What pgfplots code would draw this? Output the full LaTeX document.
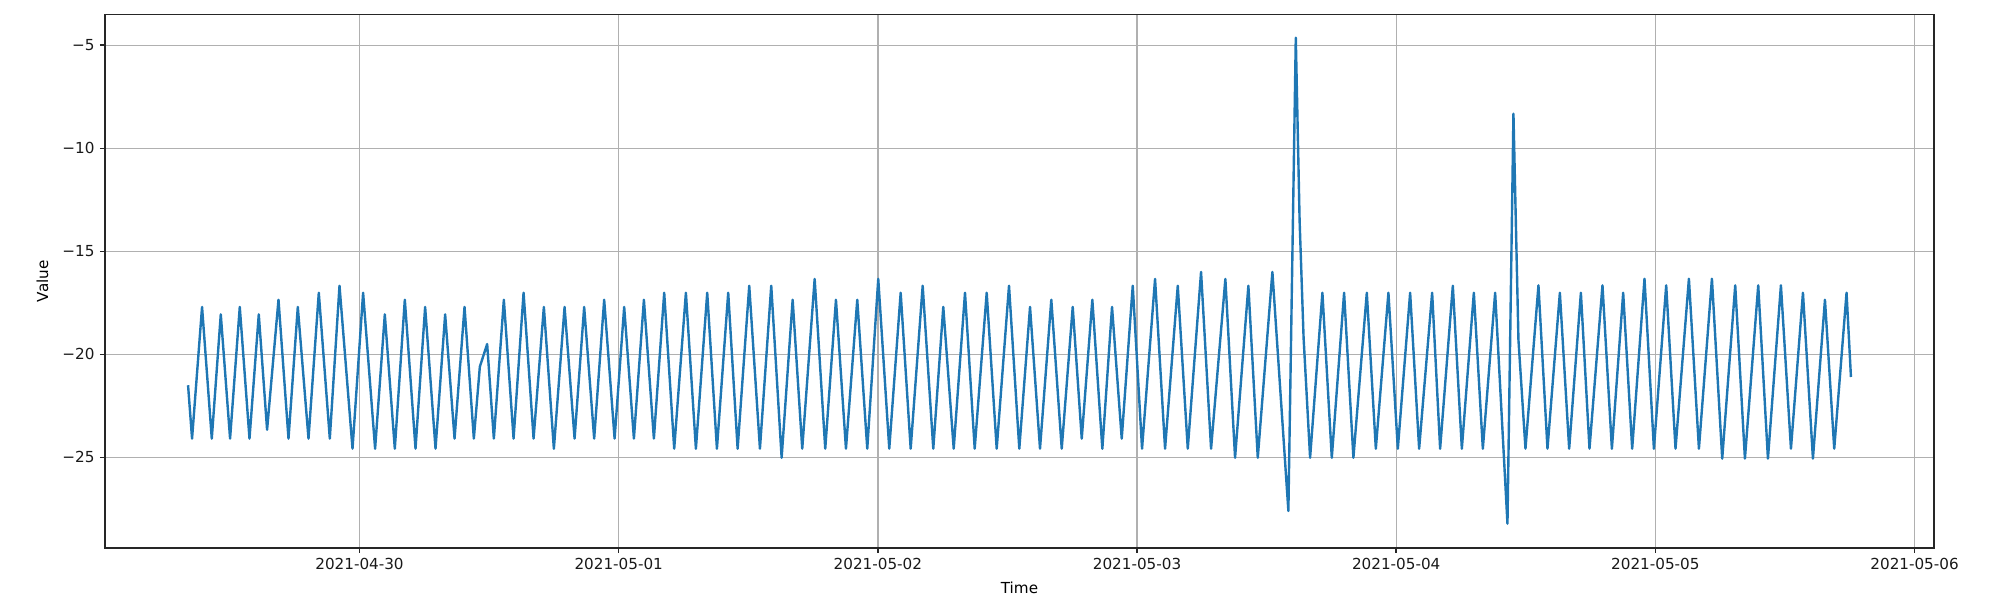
\documentclass[border=0pt]{standalone}
\usepackage{fontspec}
\setmainfont{DejaVu Sans}
\usepackage{pgfplots}
\pgfplotsset{compat=1.18}
\definecolor{mplblue}{HTML}{1F77B4}
\definecolor{gridgray}{HTML}{B0B0B0}
\begin{document}
\fontsize{7.6}{9}\selectfont
\begin{tikzpicture}
\useasboundingbox (0,0) rectangle (999.5pt,297pt);
\begin{axis}[
  at={(52.5pt,23pt)}, anchor=south west,
  scale only axis, width=914.5pt, height=266.8pt,
  xmin=-0.982, xmax=6.075, ymin=-29.4, ymax=-3.5,
  xtick={0,1,2,3,4,5,6},
  xticklabels={2021-04-30,2021-05-01,2021-05-02,2021-05-03,2021-05-04,2021-05-05,2021-05-06},
  ytick={-25,-20,-15,-10,-5},
  yticklabels={−25,−20,−15,−10,−5},
  grid=major, grid style={gridgray, line width=0.7pt},
  axis line style={black!85, line width=0.8pt},
  tick align=outside, tick pos=left,
  major tick style={black!85, line width=0.8pt}, major tick length=2.5pt,
  ticklabel style={font=\fontsize{7.6}{9}\selectfont, text=black!90},
  xlabel={Time}, ylabel={Value},
  every axis x label/.style={at={(axis description cs:0.5,0)}, anchor=center, yshift=-19.75pt, font=\fontsize{7.6}{9}\selectfont},
  every axis y label/.style={at={(axis description cs:0,0.5)}, rotate=90, anchor=center, yshift=31.25pt, font=\fontsize{7.6}{9}\selectfont},
]
\addplot[mplblue, line width=1.2pt, line join=round] table {
x y
-0.6615 -21.50
-0.6461 -24.09
-0.6075 -17.70
-0.5700 -24.09
-0.5353 -18.06
-0.4994 -24.09
-0.4620 -17.70
-0.4245 -24.09
-0.3887 -18.06
-0.3566 -23.66
-0.3126 -17.35
-0.2740 -24.09
-0.2381 -17.70
-0.1968 -24.09
-0.1571 -17.01
-0.1146 -24.09
-0.0772 -16.67
-0.0270 -24.58
0.0139 -17.01
0.0602 -24.58
0.0976 -18.06
0.1362 -24.58
0.1748 -17.35
0.2161 -24.58
0.2532 -17.70
0.2933 -24.58
0.3304 -18.06
0.3667 -24.09
0.4052 -17.70
0.4411 -24.09
0.4643 -20.60
0.4925 -19.50
0.5183 -24.09
0.5569 -17.35
0.5944 -24.09
0.6330 -17.01
0.6716 -24.09
0.7113 -17.70
0.7499 -24.58
0.7912 -17.70
0.8298 -24.09
0.8668 -17.70
0.9054 -24.09
0.9440 -17.35
0.9842 -24.09
1.0212 -17.70
1.0587 -24.09
1.0973 -17.35
1.1358 -24.09
1.1756 -17.01
1.2142 -24.58
1.2593 -17.01
1.2979 -24.58
1.3416 -17.01
1.3790 -24.58
1.4226 -17.01
1.4589 -24.58
1.5037 -16.67
1.5450 -24.58
1.5886 -16.67
1.6287 -25.02
1.6712 -17.35
1.7082 -24.58
1.7561 -16.34
1.7970 -24.58
1.8383 -17.35
1.8769 -24.58
1.9205 -17.35
1.9591 -24.58
2.0015 -16.34
2.0440 -24.58
2.0880 -17.01
2.1266 -24.58
2.1729 -16.67
2.2138 -24.58
2.2524 -17.70
2.2926 -24.58
2.3362 -17.01
2.3736 -24.58
2.4199 -17.01
2.4585 -24.58
2.5060 -16.67
2.5457 -24.58
2.5871 -17.70
2.6256 -24.58
2.6692 -17.35
2.7094 -24.58
2.7518 -17.70
2.7866 -24.09
2.8275 -17.35
2.8661 -24.58
2.9035 -17.70
2.9409 -24.09
2.9834 -16.67
3.0193 -24.58
3.0695 -16.34
3.1081 -24.58
3.1571 -16.67
3.1957 -24.58
3.2470 -16.00
3.2856 -24.58
3.3408 -16.34
3.3782 -25.02
3.4296 -16.67
3.4658 -25.02
3.5222 -16.00
3.5839 -27.60
3.6125 -4.63
3.6272 -13.50
3.6426 -19.20
3.6677 -25.02
3.7152 -17.01
3.7514 -25.02
3.7989 -17.01
3.8348 -25.02
3.8865 -17.01
3.9213 -24.58
3.9699 -17.01
4.0062 -24.58
4.0537 -17.01
4.0884 -24.58
4.1386 -17.01
4.1694 -24.58
4.2184 -16.67
4.2532 -24.58
4.2995 -17.01
4.3342 -24.58
4.3817 -17.01
4.4292 -28.22
4.4523 -8.32
4.4716 -19.30
4.4987 -24.58
4.5488 -16.65
4.5836 -24.58
4.6314 -17.01
4.6673 -24.58
4.7125 -17.01
4.7457 -24.58
4.7958 -16.65
4.8321 -24.58
4.8757 -17.01
4.9104 -24.58
4.9579 -16.33
4.9942 -24.58
5.0417 -16.65
5.0776 -24.58
5.1293 -16.33
5.1679 -24.58
5.2181 -16.33
5.2578 -25.06
5.3080 -16.65
5.3454 -25.06
5.3968 -16.65
5.4342 -25.06
5.4843 -16.65
5.5230 -24.58
5.5693 -17.01
5.6078 -25.06
5.6542 -17.35
5.6900 -24.58
5.7375 -17.01
5.7545 -21.10
};
\end{axis}
\end{tikzpicture}
\end{document}
